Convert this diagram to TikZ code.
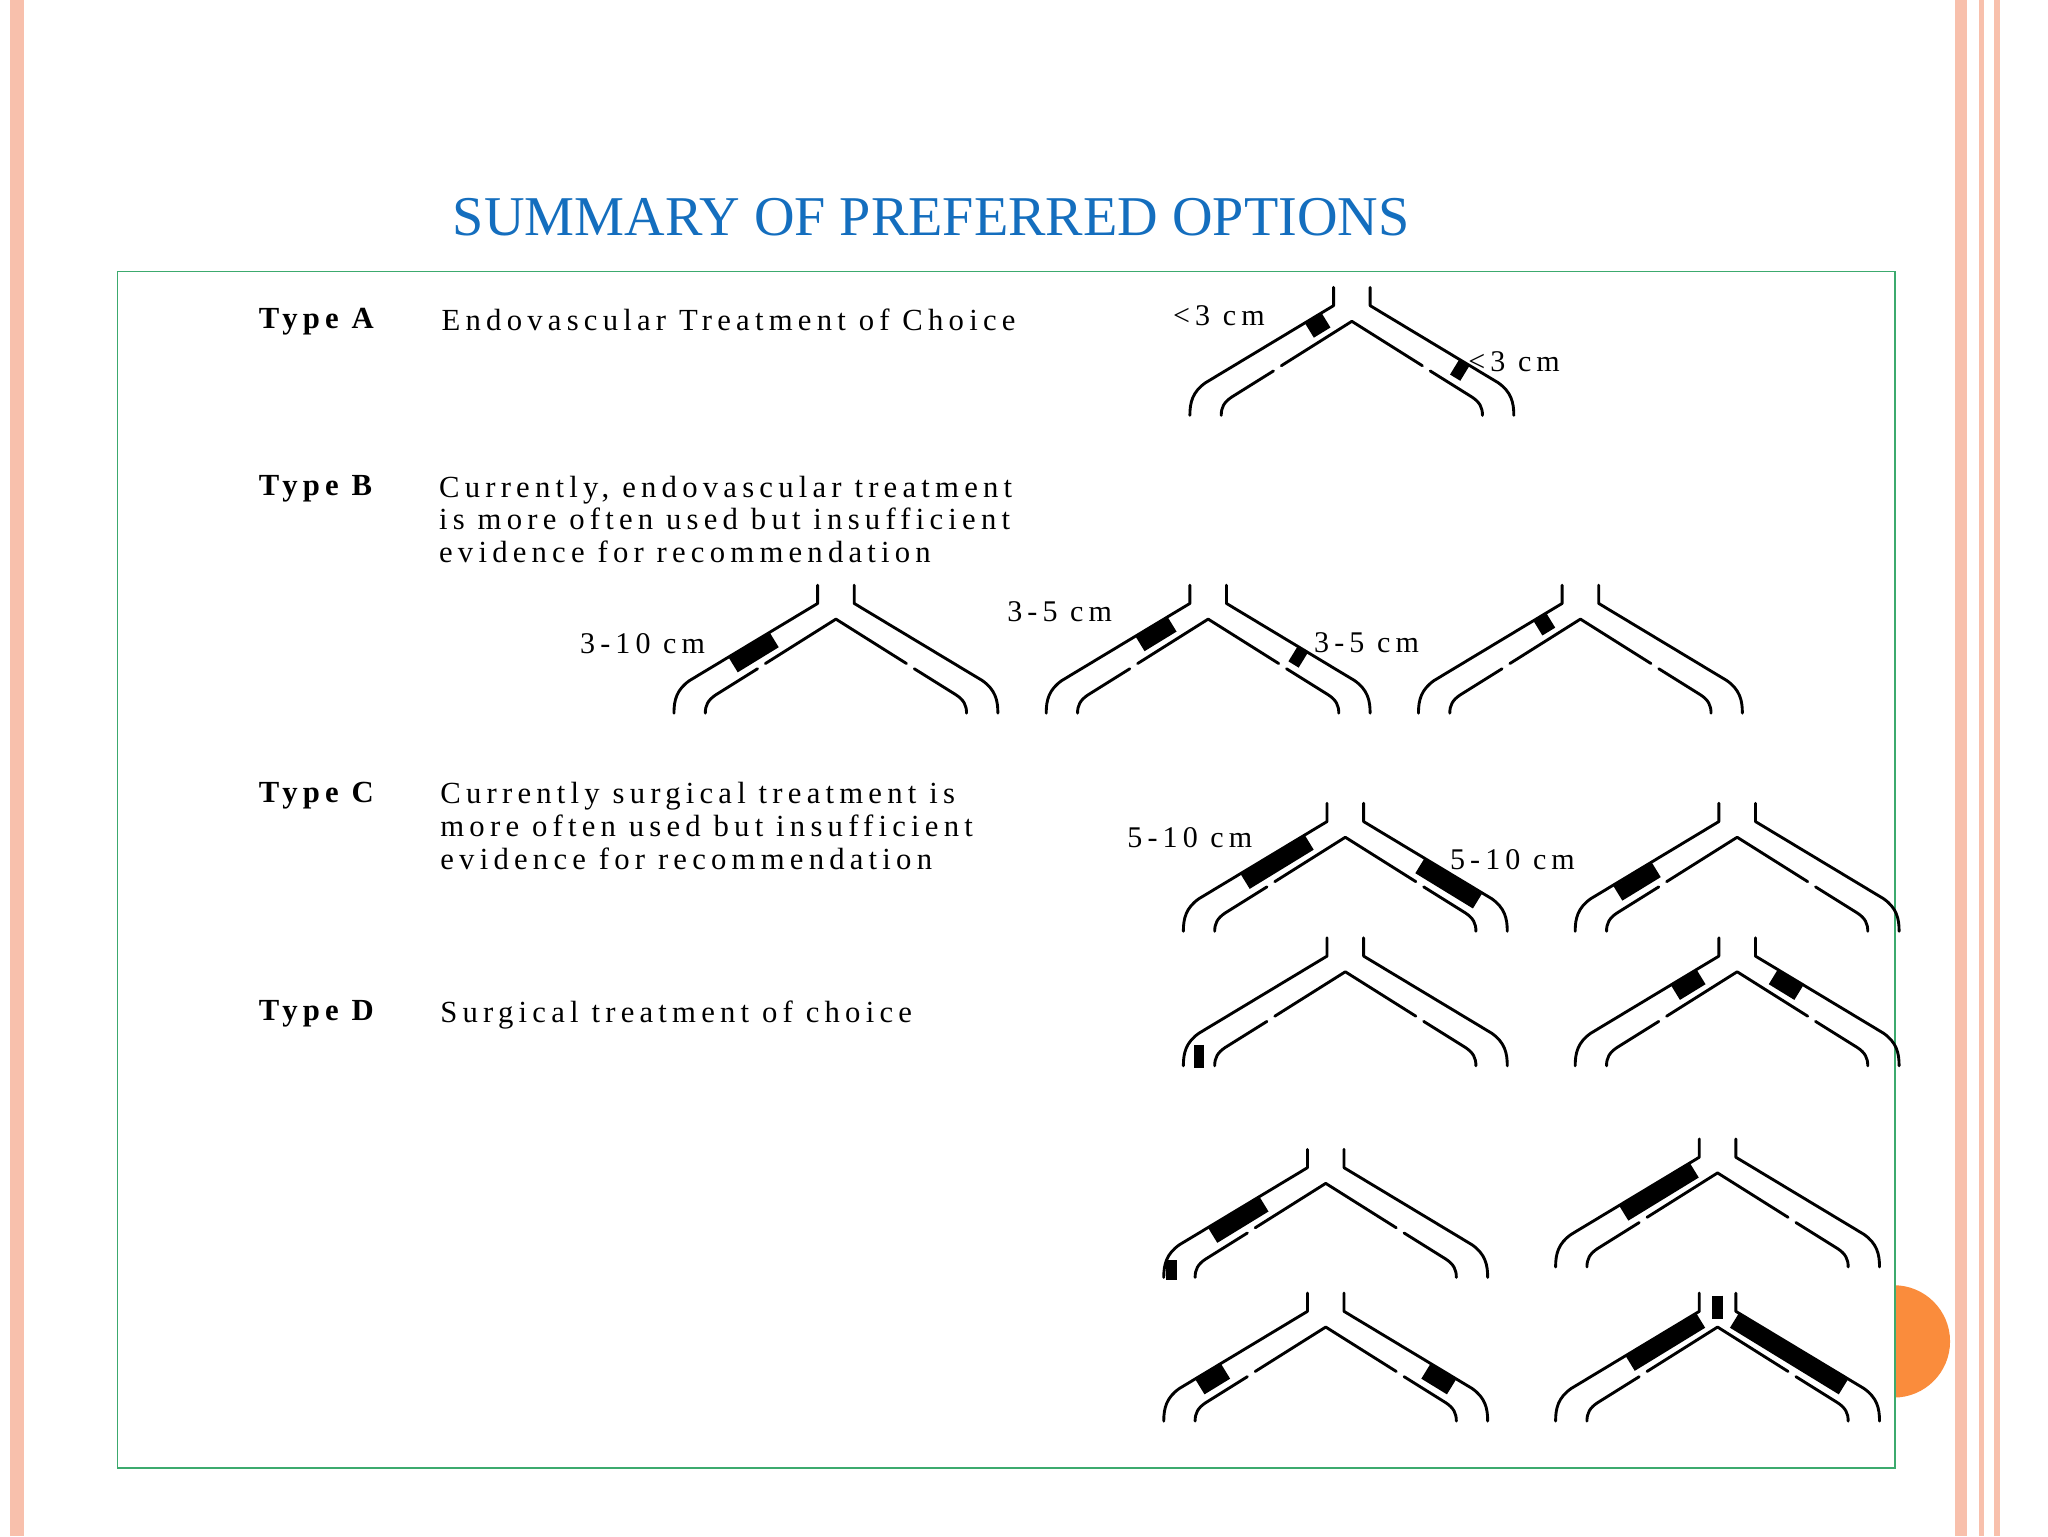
\documentclass[tikz,border=0pt]{standalone}
\usepackage{fontspec}
\setmainfont{Liberation Serif}
\newfontfamily\spaced[LetterSpace=17]{Liberation Serif}
\usetikzlibrary{calc}
\definecolor{salmon}{RGB}{248,192,172}
\definecolor{titleblue}{RGB}{20,110,190}
\definecolor{boxgreen}{RGB}{60,170,110}
\definecolor{dot}{RGB}{250,140,60}
\tikzset{
  wall/.style={line width=2.2pt,line cap=round,line join=round},
  lesion/.style={line width=13pt,black},
  body/.style={anchor=north west,font=\fontsize{23.5}{25}\selectfont\spaced,align=left,inner sep=0pt},
  lbl/.style={font=\fontsize{23}{25}\selectfont\spaced,inner sep=0pt},
}
\newcommand\iliac[3]{%
\begin{scope}[shift={(#1,#2)}]
 \coordinate (aL) at (-8,18); \coordinate (bL) at (-106,78);
 \coordinate (aR) at (8,18); \coordinate (bR) at (106,78);
 \draw[wall] (-14,0) -- (-14,14) -- (-112,73) .. controls (-122,80) and (-124,88) .. (-124,98);
 \draw[wall] (14,0) -- (14,14) -- (112,73) .. controls (122,80) and (124,88) .. (124,98);
 \draw[wall] (-100,98) .. controls (-100,92) and (-98,88) .. (-92,84) -- (-60,64);
 \draw[wall] (-54,60) -- (0,26) -- (54,60);
 \draw[wall] (60,64) -- (92,84) .. controls (98,88) and (100,92) .. (100,98);
 #3
\end{scope}}
\newcommand\les[3]{\draw[lesion] ($(a#1)!#2!(b#1)$) -- ($(a#1)!#3!(b#1)$);}
\begin{document}
\begin{tikzpicture}[x=1pt,y=-1pt]
\useasboundingbox (0,0) rectangle (1568,1176);
\fill[white] (0,0) rectangle (1568,1176);
\fill[salmon] (8,0) rectangle (18,1176);
\fill[salmon] (1497,0) rectangle (1506,1176);
\fill[salmon] (1515,0) rectangle (1519,1176);
\fill[salmon] (1527,0) rectangle (1531,1176);
\fill[dot] (1450,1027) circle (43);
\node[font=\fontsize{43}{45}\selectfont,text=titleblue,anchor=base] (title) at (713,180) {SUMMARY OF PREFERRED OPTIONS};
\draw[boxgreen,line width=1.2pt,fill=white] (90,208) rectangle (1451,1124);
\node[body,font=\fontsize{23.5}{25}\selectfont\spaced\bfseries] (ta) at (198,236) {Type A};
\node[body] (tat) at (338,236) {Endovascular Treatment of Choice};
\node[body,font=\fontsize{23.5}{25}\selectfont\spaced\bfseries] (tb) at (198,364) {Type B};
\node[body] (tbt) at (336,364) {Currently, endovascular treatment\\is more often used but insufficient\\evidence for recommendation};
\node[body,font=\fontsize{23.5}{25}\selectfont\spaced\bfseries] (tc) at (198,599) {Type C};
\node[body] (tct) at (337,599) {Currently surgical treatment is\\more often used but insufficient\\evidence for recommendation};
\node[body,font=\fontsize{23.5}{25}\selectfont\spaced\bfseries] (td) at (198,766) {Type D};
\node[body] (tdt) at (337,766) {Surgical treatment of choice};
% Type A
\iliac{1035}{220}{\les{L}{0.12}{0.25}\les{R}{0.72}{0.8}}
\node[lbl,anchor=west] (la1) at (898,242) {<3 cm};
\node[lbl,anchor=west] (la2) at (1124,277) {<3 cm};
% Type B
\iliac{640}{448}{\les{L}{0.4}{0.72}}
\node[lbl,anchor=west] (lb1) at (444,493) {3-10 cm};
\iliac{925}{448}{\les{L}{0.2}{0.45}\les{R}{0.58}{0.66}}
\node[lbl,anchor=west] (lb2) at (771,468) {3-5 cm};
\node[lbl,anchor=west] (lb3) at (1006,492) {3-5 cm};
\iliac{1210}{448}{\les{L}{0.15}{0.25}}
% Type C
\iliac{1030}{615}{\les{L}{0.2}{0.7}\les{R}{0.5}{0.95}}
\node[lbl,anchor=west] (lc1) at (863,641) {5-10 cm};
\node[lbl,anchor=west] (lc2) at (1110,658) {5-10 cm};
\iliac{1330}{615}{\les{L}{0.55}{0.85}}
% Type D
\iliac{1030}{718}{\draw[lesion,line width=8pt] (-112,82) -- (-112,100);}
\iliac{1330}{718}{\les{L}{0.2}{0.4}\les{R}{0.2}{0.4}}
\iliac{1015}{880}{\les{L}{0.4}{0.8}\draw[lesion,line width=8pt] (-118,85) -- (-118,100);}
\iliac{1315}{872}{\les{L}{0.1}{0.65}}
\iliac{1015}{990}{\les{L}{0.7}{0.9}\les{R}{0.7}{0.9}}
\iliac{1315}{990}{\draw[lesion,line width=8pt] (0,2) -- (0,20);\les{L}{0.05}{0.6}\les{R}{0.05}{0.9}}
\end{tikzpicture}
\end{document}
